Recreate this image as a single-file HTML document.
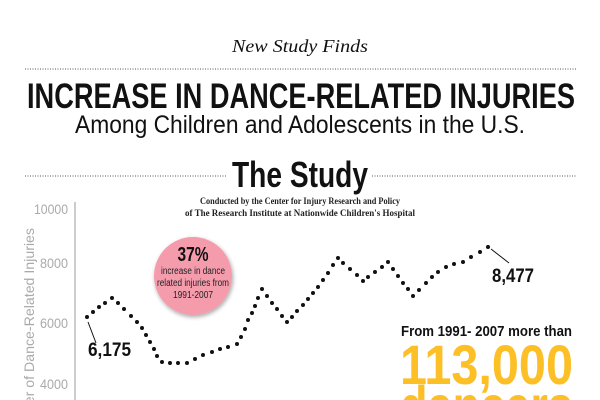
<!DOCTYPE html>
<html><head><meta charset="utf-8"><style>
html,body{margin:0;padding:0;background:#fff;width:600px;height:400px;overflow:hidden}
svg{display:block}
</style></head><body>
<svg width="600" height="400" viewBox="0 0 600 400" xmlns="http://www.w3.org/2000/svg">
<defs><filter id="sh" x="-30%" y="-30%" width="160%" height="160%"><feDropShadow dx="1" dy="2" stdDeviation="2" flood-color="#000" flood-opacity="0.35"/></filter></defs>
<text x="300" y="52" text-anchor="middle" font-family="Liberation Serif, serif" font-style="italic" font-size="18" fill="#111" textLength="136" lengthAdjust="spacingAndGlyphs">New Study Finds</text>
<line x1="25" y1="69" x2="577" y2="69" stroke="#555" stroke-width="1" stroke-dasharray="1,1.5"/>
<text x="301" y="108" text-anchor="middle" font-family="Liberation Sans, sans-serif" font-weight="bold" font-size="35" fill="#111" textLength="548" lengthAdjust="spacingAndGlyphs">INCREASE IN DANCE-RELATED INJURIES</text>
<text x="300" y="133" text-anchor="middle" font-family="Liberation Sans, sans-serif" font-size="25" fill="#111" textLength="450" lengthAdjust="spacingAndGlyphs">Among Children and Adolescents in the U.S.</text>
<line x1="25" y1="176" x2="226" y2="176" stroke="#555" stroke-width="1" stroke-dasharray="1,1.5"/>
<line x1="372" y1="176" x2="577" y2="176" stroke="#555" stroke-width="1" stroke-dasharray="1,1.5"/>
<text x="300" y="187" text-anchor="middle" font-family="Liberation Sans, sans-serif" font-weight="bold" font-size="36" fill="#111" textLength="136" lengthAdjust="spacingAndGlyphs">The Study</text>
<text x="300" y="204" text-anchor="middle" font-family="Liberation Serif, serif" font-weight="bold" font-size="9.5" fill="#222" textLength="200" lengthAdjust="spacingAndGlyphs">Conducted by the Center for Injury Research and Policy</text>
<text x="300" y="216" text-anchor="middle" font-family="Liberation Serif, serif" font-weight="bold" font-size="9.5" fill="#222" textLength="230" lengthAdjust="spacingAndGlyphs">of The Research Institute at Nationwide Children's Hospital</text>
<line x1="75" y1="202" x2="75" y2="400" stroke="#bbb" stroke-width="1.5"/>
<g font-family="Liberation Sans, sans-serif" font-size="14" fill="#aaa" text-anchor="end">
<text x="68" y="214" textLength="34" lengthAdjust="spacingAndGlyphs">10000</text>
<text x="68" y="268" textLength="28" lengthAdjust="spacingAndGlyphs">8000</text>
<text x="68" y="328" textLength="28" lengthAdjust="spacingAndGlyphs">6000</text>
<text x="68" y="389" textLength="28" lengthAdjust="spacingAndGlyphs">4000</text>
</g>
<text transform="translate(34,228) rotate(-90)" text-anchor="end" font-family="Liberation Sans, sans-serif" font-size="14" fill="#aaa" textLength="214" lengthAdjust="spacingAndGlyphs">Number of Dance-Related Injuries</text>
<circle cx="193" cy="276" r="39" fill="#f49bac" filter="url(#sh)"/>
<text x="193" y="261" text-anchor="middle" font-family="Liberation Sans, sans-serif" font-weight="bold" font-size="20" fill="#111" textLength="31" lengthAdjust="spacingAndGlyphs">37%</text>
<g font-family="Liberation Sans, sans-serif" font-size="10" fill="#222" text-anchor="middle">
<text x="193" y="274" textLength="64" lengthAdjust="spacingAndGlyphs">increase in dance</text>
<text x="193" y="286" textLength="72" lengthAdjust="spacingAndGlyphs">related injuries from</text>
<text x="193" y="298" textLength="40" lengthAdjust="spacingAndGlyphs">1991-2007</text>
</g>
<g fill="#111">
<circle cx="87" cy="317" r="2"/><circle cx="93" cy="312" r="2"/><circle cx="99" cy="307" r="2"/><circle cx="105" cy="303" r="2"/><circle cx="112" cy="298" r="2"/><circle cx="118" cy="303" r="2"/><circle cx="124" cy="309" r="2"/><circle cx="131" cy="316" r="2"/><circle cx="137" cy="322" r="2"/><circle cx="142" cy="328" r="2"/><circle cx="146" cy="335" r="2"/><circle cx="150" cy="342" r="2"/><circle cx="154" cy="349" r="2"/><circle cx="157" cy="356" r="2"/><circle cx="162" cy="362" r="2"/><circle cx="170" cy="363" r="2"/><circle cx="178" cy="363" r="2"/><circle cx="187" cy="363" r="2"/><circle cx="195" cy="359" r="2"/><circle cx="203" cy="355" r="2"/><circle cx="212" cy="352" r="2"/><circle cx="220" cy="349" r="2"/><circle cx="228" cy="347" r="2"/><circle cx="237" cy="344" r="2"/><circle cx="241" cy="337" r="2"/><circle cx="245" cy="329" r="2"/><circle cx="248" cy="320" r="2"/><circle cx="252" cy="313" r="2"/><circle cx="255" cy="306" r="2"/><circle cx="258" cy="298" r="2"/><circle cx="262" cy="289" r="2"/><circle cx="267" cy="296" r="2"/><circle cx="272" cy="303" r="2"/><circle cx="277" cy="309" r="2"/><circle cx="282" cy="316" r="2"/><circle cx="287" cy="322" r="2"/><circle cx="292" cy="317" r="2"/><circle cx="297" cy="311" r="2"/><circle cx="303" cy="305" r="2"/><circle cx="308" cy="299" r="2"/><circle cx="313" cy="293" r="2"/><circle cx="318" cy="287" r="2"/><circle cx="323" cy="280" r="2"/><circle cx="328" cy="273" r="2"/><circle cx="333" cy="265" r="2"/><circle cx="338" cy="258" r="2"/><circle cx="343" cy="263" r="2"/><circle cx="350" cy="269" r="2"/><circle cx="357" cy="275" r="2"/><circle cx="363" cy="281" r="2"/><circle cx="368" cy="277" r="2"/><circle cx="375" cy="272" r="2"/><circle cx="382" cy="267" r="2"/><circle cx="388" cy="262" r="2"/><circle cx="393" cy="269" r="2"/><circle cx="398" cy="276" r="2"/><circle cx="403" cy="283" r="2"/><circle cx="408" cy="289" r="2"/><circle cx="413" cy="296" r="2"/><circle cx="419" cy="290" r="2"/><circle cx="426" cy="283" r="2"/><circle cx="432" cy="277" r="2"/><circle cx="438" cy="272" r="2"/><circle cx="446" cy="267" r="2"/><circle cx="454" cy="264" r="2"/><circle cx="463" cy="262" r="2"/><circle cx="471" cy="257" r="2"/><circle cx="480" cy="252" r="2"/><circle cx="488" cy="247" r="2"/>
</g>
<line x1="88" y1="322" x2="96" y2="343" stroke="#111" stroke-width="1"/>
<line x1="491" y1="249" x2="509" y2="263" stroke="#111" stroke-width="1"/>
<text x="88" y="356" font-family="Liberation Sans, sans-serif" font-weight="bold" font-size="19" fill="#111" textLength="43" lengthAdjust="spacingAndGlyphs">6,175</text>
<text x="492" y="282" font-family="Liberation Sans, sans-serif" font-weight="bold" font-size="19" fill="#111" textLength="42" lengthAdjust="spacingAndGlyphs">8,477</text>
<text x="401" y="336" font-family="Liberation Sans, sans-serif" font-weight="bold" font-size="15" fill="#111" textLength="171" lengthAdjust="spacingAndGlyphs">From 1991- 2007 more than</text>
<text x="400" y="384" font-family="Liberation Sans, sans-serif" font-weight="bold" font-size="56" fill="#fcbf26" textLength="173" lengthAdjust="spacingAndGlyphs">113,000</text>
<text x="400" y="425" font-family="Liberation Sans, sans-serif" font-weight="bold" font-size="56" fill="#fcbf26" textLength="173" lengthAdjust="spacingAndGlyphs">dancers</text>
</svg>
</body></html>
